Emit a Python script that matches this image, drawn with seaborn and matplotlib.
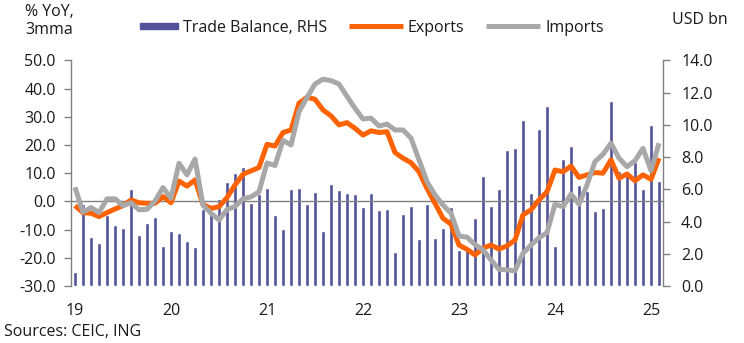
import numpy as np
import pandas as pd
import matplotlib
matplotlib.use("Agg")
import matplotlib.pyplot as plt
import matplotlib.patches as mpatches
import seaborn as sns
from matplotlib.lines import Line2D
from matplotlib.legend_handler import HandlerPatch

# ---- data (monthly, Jan 2019 - Feb 2025) ----
months = pd.date_range("2019-01-01", "2025-02-01", freq="MS")
trade_balance = [0.89, 5.09, 3.04, 2.69, 4.40, 3.80, 3.60, 6.04, 3.16, 3.91, 4.30, 2.48,
                 3.41, 3.29, 2.79, 2.42, 4.78, 4.51, 5.40, 6.45, 7.01, 7.38, 5.15, 5.71,
                 6.10, 4.42, 3.54, 6.02, 6.10, 5.11, 5.83, 3.41, 6.33, 5.96, 5.77, 5.71,
                 4.90, 5.77, 4.71, 4.78, 2.13, 4.47, 4.96, 2.92, 5.09, 2.98, 3.60, 4.90,
                 2.23, 2.25, 4.22, 6.82, 4.98, 6.04, 8.46, 8.56, 10.30, 5.77, 9.74, 11.17,
                 2.48, 7.88, 8.68, 6.27, 5.90, 4.65, 4.84, 11.48, 7.13, 6.90, 7.70, 6.04, 9.99, 6.51]
exports = [-1.5, -4.0, -4.2, -5.4, -4.0, -2.7, -1.5, 0.5, -0.5, -0.7, -0.7, 1.7,
           -0.5, 7.2, 5.4, 7.6, -1.1, -2.5, -1.9, 1.3, 5.8, 9.6, 10.8, 12.0,
           20.2, 19.6, 24.4, 25.3, 34.8, 36.9, 36.2, 32.4, 30.3, 27.1, 27.9, 25.9,
           23.5, 25.0, 24.4, 24.7, 17.3, 15.3, 13.7, 10.5, 4.6, -0.7, -6.0, -8.1,
           -15.5, -17.0, -19.0, -16.6, -15.5, -16.9, -15.8, -13.7, -4.8, -3.0, 0.5, 3.4,
           11.1, 10.5, 12.5, 8.5, 9.4, 10.2, 10.0, 14.7, 8.2, 9.7, 7.3, 9.4, 7.8, 15.3]
imports = [5.0, -3.8, -2.2, -4.0, 0.9, 0.9, -1.5, -0.5, -3.0, -2.8, 0.1, 4.9,
           1.1, 13.5, 9.4, 15.0, -1.4, -4.2, -6.6, -2.9, -1.8, 0.9, 1.6, 3.4,
           13.6, 12.7, 21.6, 20.0, 31.8, 36.8, 41.6, 43.3, 42.8, 41.6, 37.2, 33.0,
           29.2, 29.5, 26.7, 27.4, 25.3, 25.3, 22.4, 14.7, 7.0, 2.3, -1.3, -4.2,
           -12.3, -12.7, -15.3, -17.2, -20.8, -24.1, -24.3, -24.6, -18.4, -15.5, -12.9, -11.1,
           -1.0, -1.9, 2.6, -1.0, 5.8, 14.1, 16.7, 20.6, 15.3, 12.3, 14.4, 18.8, 10.9, 20.6]
year_labels = ["19", "20", "21", "22", "23", "24", "25"]

BAR = "#525199"
ORANGE = "#FF6200"
GRAY = "#A8A8A8"
SPINE = "#808080"
TEXT = "#1a1a1a"

sns.set_theme(style="white")
plt.rcParams["font.family"] = ["Open Sans", "DejaVu Sans"]
FS = 11.5

df = pd.DataFrame({
    "pos": np.arange(len(months)) + 0.5,
    "Trade Balance, RHS": trade_balance,
    "Exports": exports,
    "Imports": imports,
})

fig = plt.figure(figsize=(7.44, 3.43), dpi=100)
W, H = 744, 343
x0, x1, ytop, ybot = 71, 663, 60.3, 286
ax = fig.add_axes([x0 / W, 1 - ybot / H, (x1 - x0) / W, (ybot - ytop) / H])
ax2 = ax.twinx()

sns.barplot(data=df, x="pos", y="Trade Balance, RHS", native_scale=True, width=0.55,
            color=BAR, saturation=1, errorbar=None, ax=ax2)
sns.lineplot(data=df, x="pos", y="Exports", color=ORANGE, lw=3.6, ax=ax,
             solid_joinstyle="round", solid_capstyle="butt", zorder=3)
sns.lineplot(data=df, x="pos", y="Imports", color=GRAY, lw=3.6, ax=ax,
             solid_joinstyle="round", solid_capstyle="butt", zorder=4)

ax.set_zorder(ax2.get_zorder() + 1)
ax.patch.set_visible(False)

ax.set_xlim(0, len(months))
ax.set_ylim(-30, 50)
ax2.set_ylim(0, 14)
for a in (ax, ax2):
    a.set_xlabel("")
    a.set_ylabel("")

# left axis
lt = list(range(-30, 51, 10))
ax.set_yticks(lt)
ax.set_yticklabels([f"{v:.1f}" for v in lt], fontsize=FS, color=TEXT)
ax.tick_params(axis="y", which="major", left=True, direction="out", length=5,
               width=1, color=SPINE, pad=6)
# right axis
rt = list(range(0, 15, 2))
ax2.set_yticks(rt)
ax2.set_yticklabels([f"{v:.1f}" for v in rt], fontsize=FS, color=TEXT)
ax2.tick_params(axis="y", which="major", right=True, direction="out", length=5,
                width=1, color=SPINE, pad=8)

# x axis: line at zero, ticks at year boundaries, labels at January bars
ax.spines["bottom"].set_position(("data", 0))
ax.spines["bottom"].set_color(SPINE)
ax.spines["bottom"].set_linewidth(1.0)
ax.spines["left"].set_color(SPINE)
ax.spines["left"].set_linewidth(1.0)
ax.spines["top"].set_visible(False)
ax.spines["right"].set_visible(False)
for s in ("top", "left", "bottom"):
    ax2.spines[s].set_visible(False)
ax2.spines["right"].set_color(SPINE)
ax2.spines["right"].set_linewidth(1.0)

ax.set_xticks([12 * i for i in range(len(year_labels))])
ax.set_xticklabels([])
ax.set_xticks([12 * i + 0.5 for i in range(len(year_labels))], minor=True)
ax.set_xticklabels(year_labels, minor=True, fontsize=FS, color=TEXT)
ax.tick_params(axis="x", which="major", bottom=True, direction="out", length=3.5,
               width=1, color=SPINE)
ax.tick_params(axis="x", which="minor", bottom=True, length=0, pad=73)
ax2.set_xticks([])

# texts
fig.text(25 / W, 1 - 4 / H, "% YoY,\n3mma", ha="left", va="top", fontsize=FS,
         color=TEXT, linespacing=1.15)
fig.text(672 / W, 1 - 12 / H, "USD bn", ha="left", va="top", fontsize=FS, color=TEXT)
fig.text(4 / W, 1 - 340 / H, "Sources: CEIC, ING", ha="left", va="bottom",
         fontsize=FS, color=TEXT)


def bar_handle(legend, orig_handle, xdescent, ydescent, width, height, fontsize):
    w = 38 * 72 / 100
    h = 6 * 72 / 100
    return mpatches.Rectangle((-xdescent + width - w, -ydescent + (height - h) / 2), w, h)


bar_patch = mpatches.Patch(color=BAR)
handles = [
    bar_patch,
    Line2D([], [], color=ORANGE, lw=3.6, solid_capstyle="butt"),
    Line2D([], [], color=GRAY, lw=3.6, solid_capstyle="butt"),
]
fig.legend(handles, ["Trade Balance, RHS", "Exports", "Imports"], ncol=3,
           loc="center left", bbox_to_anchor=(124 / W, 1 - 28 / H), frameon=False,
           fontsize=FS, handlelength=3.4, handletextpad=0.3, columnspacing=1.35,
           borderpad=0, borderaxespad=0, labelcolor=TEXT,
           handler_map={bar_patch: HandlerPatch(patch_func=bar_handle)})

fig.savefig("out.png", dpi=100)
